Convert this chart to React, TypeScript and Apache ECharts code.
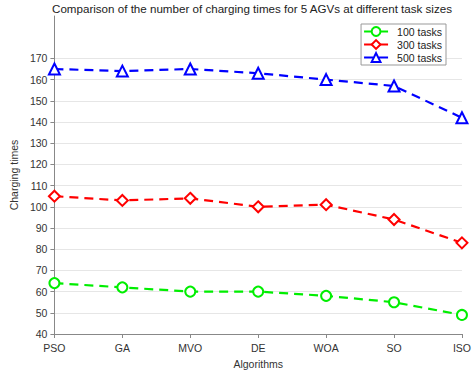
import React, { useEffect, useRef } from "react";
import * as echarts from "echarts";

const categories = ["PSO", "GA", "MVO", "DE", "WOA", "SO", "ISO"];
const tasks100 = [64, 62, 60, 60, 58, 55, 49];
const tasks300 = [105, 103, 104, 100, 101, 94, 83];
const tasks500 = [165, 164, 165, 163, 160, 157, 142];
const seriesNames = ["100 tasks", "300 tasks", "500 tasks"];
const titleText = "Comparison of the number of charging times for 5 AGVs at different task sizes";

const FONT = "Liberation Sans, Arial, sans-serif";

export default function App() {
  const ref = useRef<HTMLDivElement>(null);
  useEffect(() => {
    if (!ref.current) return;
    const chart = echarts.init(ref.current, undefined, { renderer: "svg" });
    const gridColors: string[] = [];
    for (let v = 40; v <= 190; v += 10) gridColors.push(v <= 170 ? "#e6e6e6" : "rgba(0,0,0,0)");
    const mk = (name: string, data: number[], color: string, symbol: string, size: number) => ({
      name,
      type: "line",
      data,
      symbol,
      symbolSize: size,
      showAllSymbol: true,
      lineStyle: { color, width: 2.2, type: [9, 6] },
      itemStyle: { color: "#fff", borderColor: color, borderWidth: 2 },
      z: 3,
    });
    chart.setOption({
      animation: false,
      graphic: [
        {
          type: "text",
          x: 252,
          y: 8,
          style: {
            text: titleText,
            align: "center",
            verticalAlign: "middle",
            fontFamily: FONT,
            fontSize: 11.6,
            fill: "#222",
          },
        },
      ],
      grid: { left: 43, right: 11, top: 16, bottom: 38 },
      legend: {
        orient: "vertical",
        right: 28,
        top: 24,
        padding: [2, 4, 2, 2],
        itemGap: 2,
        itemWidth: 24,
        itemHeight: 11,
        borderColor: "#999",
        borderWidth: 1,
        backgroundColor: "#fff",
        textStyle: { fontFamily: FONT, fontSize: 10.5, color: "#222", padding: [0, 0, 0, 4] },
        data: seriesNames,
      },
      xAxis: {
        type: "category",
        data: categories,
        boundaryGap: false,
        name: "Algorithms",
        nameLocation: "middle",
        nameGap: 24,
        nameTextStyle: { fontFamily: FONT, fontSize: 10.5, color: "#333" },
        axisLine: { lineStyle: { color: "#888", width: 1 } },
        axisTick: { show: true, length: 4, lineStyle: { color: "#888" }, alignWithLabel: true },
        axisLabel: { fontFamily: FONT, fontSize: 10.5, color: "#333", margin: 8 },
        splitLine: { show: false },
      },
      yAxis: {
        type: "value",
        min: 40,
        max: 190,
        interval: 10,
        name: "Charging times",
        nameLocation: "middle",
        nameGap: 28,
        nameTextStyle: { fontFamily: FONT, fontSize: 10.5, color: "#333" },
        axisLine: { show: true, lineStyle: { color: "#888", width: 1 } },
        axisTick: { show: true, length: 4, lineStyle: { color: "#888" }, customValues: [40, 50, 60, 70, 80, 90, 100, 110, 120, 130, 140, 150, 160, 170] },
        axisLabel: {
          fontFamily: FONT,
          fontSize: 10.5,
          color: "#333",
          margin: 7,
          formatter: (v: number) => (v <= 170 ? String(v) : ""),
        },
        splitLine: { show: true, lineStyle: { color: gridColors, width: 1 } },
      },
      series: [
        mk(seriesNames[0], tasks100, "#00ee00", "circle", 10),
        mk(seriesNames[1], tasks300, "#ff0000", "diamond", 11),
        mk(seriesNames[2], tasks500, "#0000ff", "triangle", 11),
      ],
    });
    return () => chart.dispose();
  }, []);
  return <div ref={ref} style={{ width: 474, height: 374, position: "absolute", left: 0, top: 0 }} />;
}
